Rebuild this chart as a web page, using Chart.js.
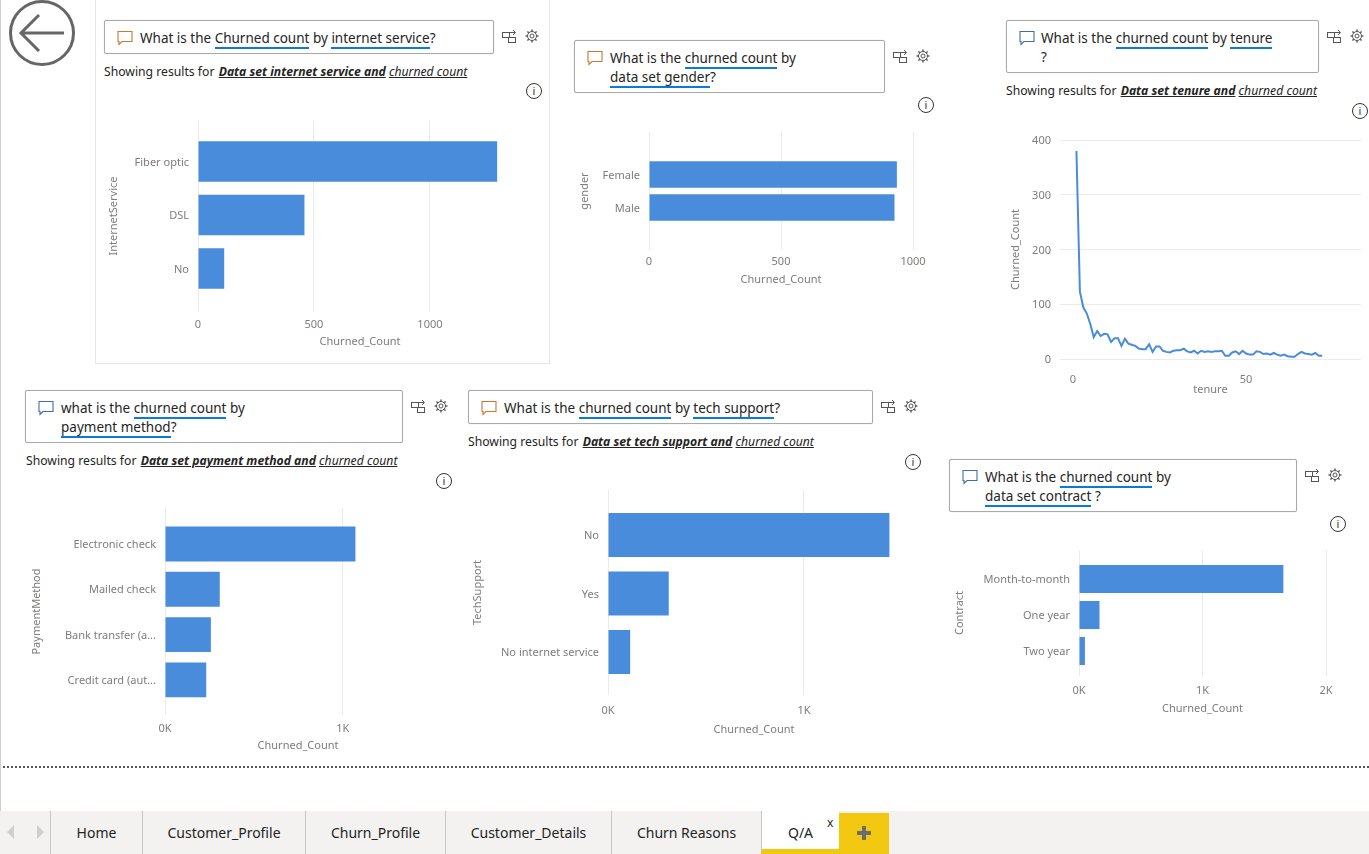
<!DOCTYPE html>
<html>
<head>
<meta charset="utf-8">
<title>Q/A</title>
<script src="https://cdn.jsdelivr.net/npm/chart.js@4/dist/chart.umd.min.js"></script>
<style>
html, body { margin: 0; padding: 0; background: #fff; }
body { width: 1369px; height: 854px; position: relative; overflow: hidden; font-family: "Noto Sans", sans-serif; color: #252423; }
canvas { position: absolute; }
.panel { position: absolute; left: 95px; top: -2px; width: 453px; height: 364px; border: 1px solid #e6e6e6; }
.qbox { position: absolute; border: 1px solid #a9a9a9; border-radius: 2px; box-shadow: 0 0 1px #ccc; box-sizing: border-box; background: #fff; }
.qline { position: absolute; font-size: 13.5px; line-height: 19px; white-space: nowrap; color: #252423; }
.qline b { font-weight: normal; border-bottom: 2px solid #0a7cd6; padding-bottom: 0; }
.sub { position: absolute; font-size: 12.2px; line-height: 16px; white-space: nowrap; color: #252423; }
.sub i { text-decoration: underline; }
.sub i.s { font-weight: bold; }
svg { position: absolute; overflow: visible; }
.dots { position: absolute; left: 3px; right: 0; top: 766px; border-top: 2px dotted #555; }
.edge { position: absolute; left: 0; top: 0; width: 1px; height: 811px; background: #d0d0d0; }
.tabs { position: absolute; left: 0; top: 811px; width: 1369px; height: 43px; background: #f3f2f1; }
.tab { position: absolute; top: 0; height: 43px; line-height: 43px; text-align: center; font-size: 14px; border-left: 1px solid #c8c6c4; box-sizing: border-box; color: #252423; }
.tab.on { background: #fff; border-left: 1px solid #c8c6c4; border-bottom: 5px solid #f2c811; line-height: 43px; }
.close { position: absolute; left: 827px; top: 3px; font-size: 12px; color: #252423; }
.plus { position: absolute; left: 839px; top: 2px; width: 50px; height: 41px; background: #f2c811; }
</style>
</head>
<body>
<div class="edge"></div>
<div class="panel"></div>
<div class="dots"></div>
<div id="overlay"></div>
<div class="tabs" id="tabs"></div>

<script>
// internet service
let internetLabels = ['Fiber optic', 'DSL', 'No'];
let internetValues = [1290, 459, 113];
let internetTicks = [0, 500, 1000];
let internetTickLabels = ['0', '500', '1000'];

// gender
let genderLabels = ['Female', 'Male'];
let genderValues = [939, 930];
let genderTicks = [0, 500, 1000];
let genderTickLabels = ['0', '500', '1000'];

// tenure line
let tenureValues = [1, 2, 3, 4, 5, 6, 7, 8, 9, 10, 11, 12, 13, 14, 15, 16, 17, 18, 19, 20, 21, 22, 23, 24,
    25, 26, 27, 28, 29, 30, 31, 32, 33, 34, 35, 36, 37, 38, 39, 40, 41, 42, 43, 44, 45, 46, 47, 48,
    49, 50, 51, 52, 53, 54, 55, 56, 57, 58, 59, 60, 61, 62, 63, 64, 65, 66, 67, 68, 69, 70, 71, 72];
let tenureChurned = [380, 123, 94, 83, 64, 40, 51, 42, 46, 45, 31, 38, 38, 24, 37, 28, 26, 24, 19, 18, 18, 27, 13, 23,
    23, 15, 13, 12, 15, 16, 16, 19, 14, 12, 15, 10, 15, 13, 14, 13, 14, 14, 15, 6, 6, 12, 14, 9,
    15, 10, 8, 8, 14, 13, 9, 10, 8, 11, 8, 6, 8, 5, 4, 4, 9, 13, 10, 9, 8, 11, 6, 6];
let tenureXTicks = [0, 50];
let tenureYTicks = [0, 100, 200, 300, 400];

// payment method
let paymentLabels = ['Electronic check', 'Mailed check', 'Bank transfer (a...', 'Credit card (aut...'];
let paymentValues = [1071, 308, 258, 232];
let paymentTicks = [0, 1000];
let paymentTickLabels = ['0K', '1K'];

// tech support
let supportLabels = ['No', 'Yes', 'No internet service'];
let supportValues = [1436, 310, 113];
let supportTicks = [0, 1000];
let supportTickLabels = ['0K', '1K'];

// contract
let contractLabels = ['Month-to-month', 'One year', 'Two year'];
let contractValues = [1655, 166, 48];
let contractTicks = [0, 1000, 2000];
let contractTickLabels = ['0K', '1K', '2K'];

let tabNames = ['Home', 'Customer_Profile', 'Churn_Profile', 'Customer_Details', 'Churn Reasons', 'Q/A'];
let tabEdges = [50, 142, 305, 445, 611, 761, 839];

const FONT = '"Noto Sans", sans-serif';
const TEXT = '#7f7c7a';
const GRID = '#ebebeb';
const BLUE = '#4a8cdc';

// places a canvas so the plot area lands on the given pixels
function makeCanvas(g) {
    let c = document.createElement('canvas');
    let left = g.titleX - 7;
    let top = g.top - 8;
    let right = g.right + 20;
    let bottom = g.titleY + 7;
    c.width = right - left;
    c.height = bottom - top;
    c.style.left = left + 'px';
    c.style.top = top + 'px';
    document.body.appendChild(c);
    return { canvas: c, left: left, bottom: bottom };
}

function axisTitle(text) {
    return { display: true, text: text, color: TEXT, font: { family: FONT, size: 11 }, padding: 0 };
}

function fitY(s, g, box) {
    s.width = g.left - box.left;
    s.paddingTop = 0;
    s.paddingBottom = 0;
}

function barChart(labels, values, ticks, tickLabels, xName, yName, g) {
    let box = makeCanvas(g);
    return new Chart(box.canvas.getContext('2d'), {
        type: 'bar',
        data: {
            labels: labels,
            datasets: [{
                data: values.map((v, i) => ({ x: v, y: i })),
                backgroundColor: BLUE,
                borderWidth: 0,
                barPercentage: 1,
                categoryPercentage: g.fill
            }]
        },
        options: {
            indexAxis: 'y',
            responsive: false,
            animation: false,
            layout: { padding: { top: 8, right: 20 } },
            plugins: { legend: { display: false }, tooltip: { enabled: false } },
            scales: {
                x: {
                    type: 'linear',
                    min: 0,
                    max: g.xMax,
                    offset: false,
                    grid: { color: GRID, drawTicks: false },
                    border: { display: false },
                    ticks: {
                        color: TEXT,
                        font: { family: FONT, size: 11 },
                        maxRotation: 0,
                        padding: g.tickY - g.bottom - 6,
                        callback: (v) => tickLabels[ticks.indexOf(v)]
                    },
                    afterBuildTicks: (s) => { s.ticks = ticks.map(v => ({ value: v })); },
                    afterFit: (s) => { s.height = box.bottom - g.bottom; },
                    title: axisTitle(xName)
                },
                y: {
                    type: 'linear',
                    reverse: true,
                    min: (g.top - g.first) / g.step,
                    max: (g.bottom - g.first) / g.step,
                    offset: false,
                    grid: { display: false, drawTicks: false },
                    border: { display: false },
                    ticks: {
                        color: TEXT,
                        font: { family: FONT, size: 11 },
                        padding: 9,
                        autoSkip: false,
                        labelOffset: 1,
                        callback: (v) => labels[v]
                    },
                    afterBuildTicks: (s) => { s.ticks = labels.map((l, i) => ({ value: i })); },
                    afterFit: (s) => fitY(s, g, box),
                    title: axisTitle(yName)
                }
            }
        }
    });
}

function lineChart(xs, ys, xTicks, yTicks, xName, yName, g) {
    let box = makeCanvas(g);
    return new Chart(box.canvas.getContext('2d'), {
        type: 'line',
        data: {
            datasets: [{
                data: xs.map((x, i) => ({ x: x, y: ys[i] })),
                borderColor: BLUE,
                borderWidth: 2,
                pointRadius: 0,
                tension: 0
            }]
        },
        options: {
            responsive: false,
            animation: false,
            layout: { padding: { top: 8, right: 20 } },
            plugins: { legend: { display: false }, tooltip: { enabled: false } },
            scales: {
                x: {
                    type: 'linear',
                    min: g.xMin,
                    max: g.xMax,
                    grid: { display: false },
                    border: { display: false },
                    ticks: { color: TEXT, font: { family: FONT, size: 11 }, padding: g.tickY - g.bottom - 6, maxRotation: 0 },
                    afterBuildTicks: (s) => { s.ticks = xTicks.map(v => ({ value: v })); },
                    afterFit: (s) => { s.height = box.bottom - g.bottom; },
                    title: axisTitle(xName)
                },
                y: {
                    min: 0,
                    max: 400,
                    grid: { color: GRID, drawTicks: false },
                    border: { display: false },
                    ticks: { color: TEXT, font: { family: FONT, size: 11 }, padding: 9, labelOffset: 1 },
                    afterBuildTicks: (s) => { s.ticks = yTicks.map(v => ({ value: v })); },
                    afterFit: (s) => fitY(s, g, box),
                    title: axisTitle(yName)
                }
            }
        }
    });
}

barChart(internetLabels, internetValues, internetTicks, internetTickLabels, 'Churned_Count', 'InternetService',
    { left: 198, right: 522, top: 120, bottom: 312, tickY: 324, titleY: 341, titleX: 114, xMax: 1397, first: 161.5, step: 53.5, fill: 0.76 });
barChart(genderLabels, genderValues, genderTicks, genderTickLabels, 'Churned_Count', 'gender',
    { left: 649, right: 913, top: 132, bottom: 250, tickY: 261, titleY: 279, titleX: 585, xMax: 1000, first: 174.5, step: 33, fill: 0.8 });
lineChart(tenureValues, tenureChurned, tenureXTicks, tenureYTicks, 'tenure', 'Churned_Count',
    { left: 1060, right: 1361, top: 140, bottom: 359, tickY: 371, titleY: 389, titleX: 1016, xMin: -3.75, xMax: 83.2 });
barChart(paymentLabels, paymentValues, paymentTicks, paymentTickLabels, 'Churned_Count', 'PaymentMethod',
    { left: 165, right: 431, top: 508, bottom: 715, tickY: 728, titleY: 745, titleX: 37, xMax: 1496, first: 544, step: 45.3, fill: 0.77 });
barChart(supportLabels, supportValues, supportTicks, supportTickLabels, 'Churned_Count', 'TechSupport',
    { left: 608, right: 900, top: 490, bottom: 695, tickY: 710, titleY: 729, titleX: 478, xMax: 1490, first: 535, step: 58.5, fill: 0.75 });
barChart(contractLabels, contractValues, contractTicks, contractTickLabels, 'Churned_Count', 'Contract',
    { left: 1079, right: 1326, top: 550, bottom: 676, tickY: 690, titleY: 708, titleX: 960, xMax: 2000, first: 579, step: 36, fill: 0.78 });

// question boxes and the small icons around them
function commentIcon(x, y, color) {
    return `<svg style="left:${x}px;top:${y}px" width="16" height="15"><path d="M1 1.5h14v10H5l-3 3v-3H1z" fill="none" stroke="${color}" stroke-width="1.1"/></svg>`;
}
function toolIcons(x, y) {
    let teeth = '';
    for (let a = 0; a < 8; a++) {
        let r = a * Math.PI / 4;
        teeth += `<line x1="${30 + 4.5 * Math.cos(r)}" y1="${7 + 4.5 * Math.sin(r)}" x2="${30 + 6.5 * Math.cos(r)}" y2="${7 + 6.5 * Math.sin(r)}" stroke-width="1.4"/>`;
    }
    return `<svg style="left:${x}px;top:${y}px" width="38" height="16" fill="none" stroke="#555" stroke-width="1">
        <rect x="0.5" y="3.5" width="7" height="5"/><rect x="6.5" y="8.5" width="7" height="5"/><path d="M6 3.5h7M11 1l2.5 2.5L11 6"/>
        <circle cx="30" cy="7" r="4.5"/><circle cx="30" cy="7" r="2"/>${teeth}</svg>`;
}
function infoIcon(cx, cy) {
    return `<svg style="left:${cx - 8}px;top:${cy - 8}px" width="16" height="16"><circle cx="8" cy="8" r="7.5" fill="#fff" stroke="#333"/><text x="8" y="12" font-size="11" text-anchor="middle" fill="#333" font-family="Noto Sans">i</text></svg>`;
}
function question(q) {
    let html = `<div class="qbox" style="left:${q.x}px;top:${q.y}px;width:${q.w}px;height:${q.h}px"></div>`;
    html += commentIcon(q.x + 13, q.y + 10, q.color);
    q.lines.forEach((line, i) => {
        html += `<div class="qline" style="left:${q.textX}px;top:${q.y + 9 + i * 19}px">${line}</div>`;
    });
    html += toolIcons(q.x + q.w + 8, q.y + 9);
    html += infoIcon(q.infoX, q.infoY);
    if (q.sub) {
        html += `<div class="sub" style="left:${q.x + (q.subDx || 0)}px;top:${q.y + q.h + 10}px">Showing results for <i class="s" style="margin-left:1px">${q.sub}</i> <i>churned count</i></div>`;
    }
    return html;
}

document.getElementById('overlay').innerHTML = [
    { x: 104, y: 20, w: 390, h: 34, textX: 140, color: '#c8792b', infoX: 534, infoY: 91, sub: 'Data set internet service and',
      lines: ['What is the <b>Churned count</b> by <b>internet service</b>?'] },
    { x: 574, y: 40, w: 311, h: 53, textX: 610, color: '#c8792b', infoX: 926, infoY: 105,
      lines: ['What is the <b>churned count</b> by', '<b>data set gender</b>?'] },
    { x: 1006, y: 20, w: 313, h: 53, textX: 1041, color: '#3f6fa8', infoX: 1360, infoY: 111, sub: 'Data set tenure and',
      lines: ['What is the <b>churned count</b> by <b>tenure</b>', '?'] },
    { x: 25, y: 390, w: 378, h: 53, textX: 61, color: '#3f6fa8', infoX: 444, infoY: 481, sub: 'Data set payment method and', subDx: 1,
      lines: ['what is the <b>churned count</b> by', '<b>payment method</b>?'] },
    { x: 468, y: 390, w: 405, h: 34, textX: 504, color: '#c8792b', infoX: 913, infoY: 462, sub: 'Data set tech support and',
      lines: ['What is the <b>churned count</b> by <b>tech support</b>?'] },
    { x: 949, y: 459, w: 348, h: 53, textX: 985, color: '#3f6fa8', infoX: 1338, infoY: 524,
      lines: ['What is the <b>churned count</b> by', '<b>data set contract</b> ?'] }
].map(question).join('') +
    `<svg style="left:8px;top:0" width="70" height="68" fill="none" stroke="#666" stroke-width="3">
        <circle cx="34" cy="33" r="31.5"/><path d="M56 33H14M31 15L13 33l18 18"/></svg>`;

// page tabs
let tabsHtml = `<svg style="left:7px;top:14px" width="40" height="16" fill="#d0cfcd"><path d="M7 0v14L0 7zM30 0v14l7-7z"/></svg>`;
tabNames.forEach((name, i) => {
    let on = name === 'Q/A' ? ' on' : '';
    tabsHtml += `<div class="tab${on}" style="left:${tabEdges[i]}px;width:${tabEdges[i + 1] - tabEdges[i]}px">${name}</div>`;
});
tabsHtml += `<div class="close">x</div><div class="plus"><svg style="left:18px;top:13px" width="14" height="14" fill="#6b6b6b"><path d="M5 0h4v5h5v4H9v5H5V9H0V5h5z"/></svg></div>`;
document.getElementById('tabs').innerHTML = tabsHtml;
</script>
</body>
</html>
